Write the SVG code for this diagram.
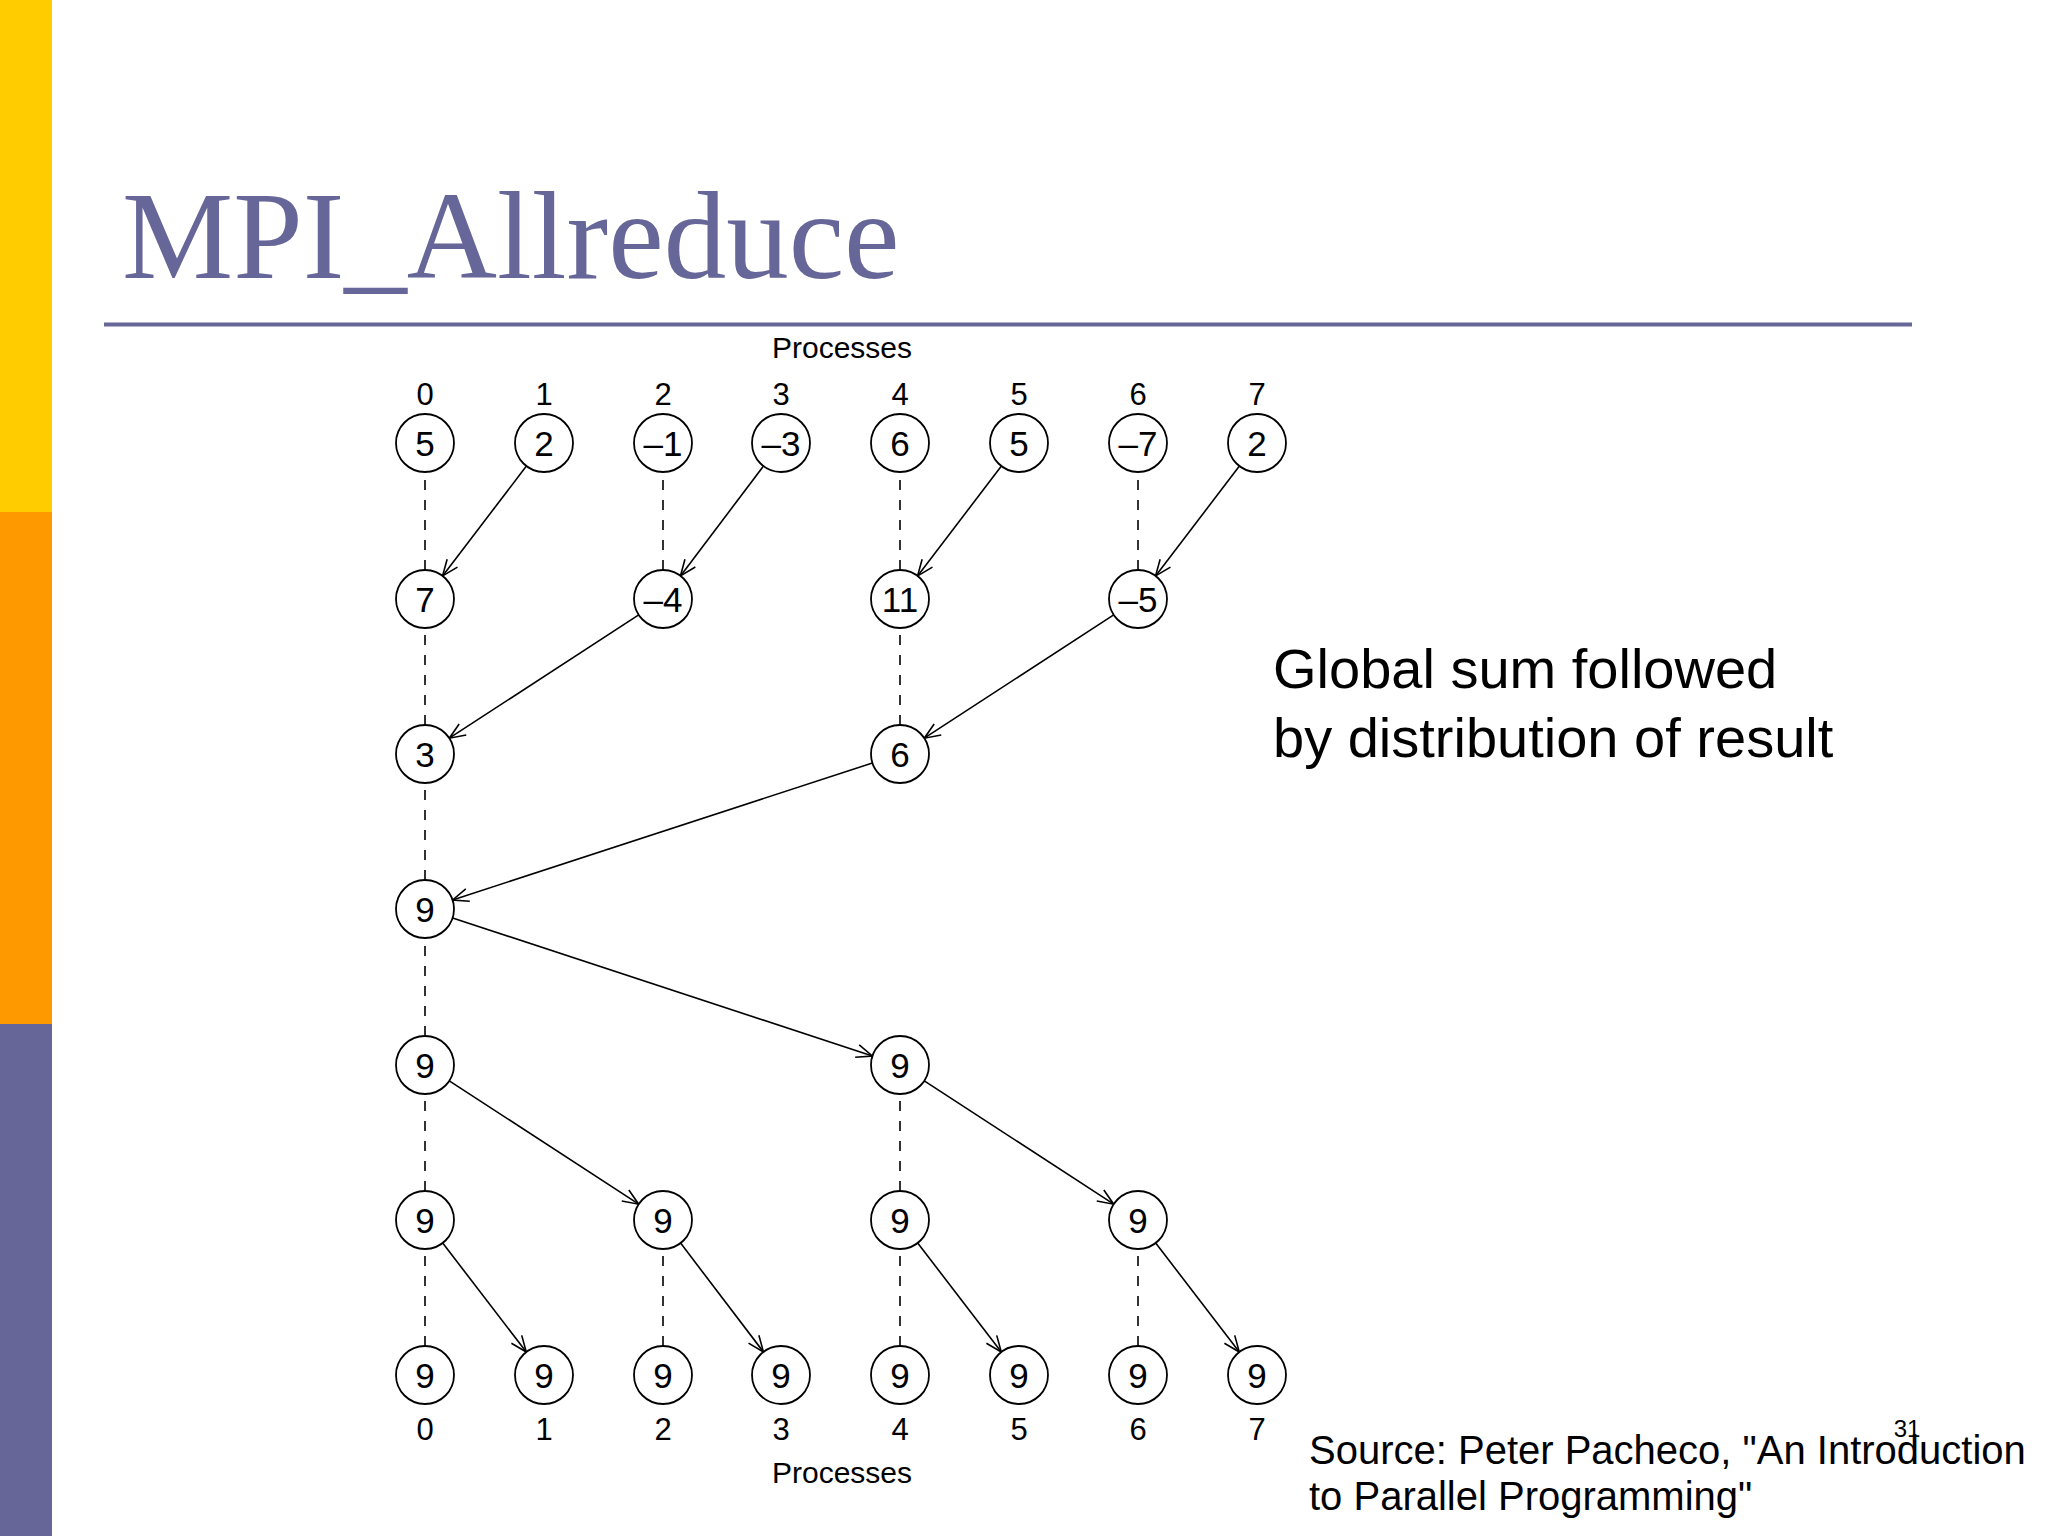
<svg xmlns="http://www.w3.org/2000/svg" width="2048" height="1536" viewBox="0 0 2048 1536">
<style>
.nd circle{fill:#fff;stroke:#000;stroke-width:1.8}
.nd text{font-family:"Liberation Sans",Arial,sans-serif;font-size:35px;text-anchor:middle;fill:#000}
.lbl{font-family:"Liberation Sans",Arial,sans-serif;font-size:31px;text-anchor:middle;fill:#000}
.hdr{font-family:"Liberation Sans",Arial,sans-serif;font-size:30px;text-anchor:middle;fill:#000}
.ar{stroke:#000;stroke-width:1.6;fill:none;marker-end:url(#ah)}
.da{stroke:#000;stroke-width:1.6;fill:none;stroke-dasharray:10 10}
.txt{font-family:"Liberation Sans",Arial,sans-serif;fill:#000}
</style>
<defs>
<marker id="ah" markerUnits="userSpaceOnUse" markerWidth="20" markerHeight="20" refX="0" refY="0" orient="auto" overflow="visible">
<path d="M-16,-6.5 L0,0 L-16,6.5" fill="none" stroke="#000" stroke-width="1.6"/>
</marker>
</defs>
<rect width="2048" height="1536" fill="#fff"/>
<g id="sidebar">
<rect x="0" y="0" width="52" height="512" fill="#FFCC00"/>
<rect x="0" y="512" width="52" height="512" fill="#FF9900"/>
<rect x="0" y="1024" width="52" height="512" fill="#666699"/>
</g>
<g id="title">
<text x="122" y="278" font-family="'Liberation Serif','Times New Roman',serif" font-size="125" fill="#666699">MPI_Allreduce</text>
<line x1="104" y1="324.5" x2="1912" y2="324.5" stroke="#666699" stroke-width="4"/>
</g>
<g id="labels">
<text class="hdr" x="842" y="358">Processes</text>
<text class="lbl" x="425" y="405">0</text><text class="lbl" x="544" y="405">1</text><text class="lbl" x="663" y="405">2</text><text class="lbl" x="781" y="405">3</text><text class="lbl" x="900" y="405">4</text><text class="lbl" x="1019" y="405">5</text><text class="lbl" x="1138" y="405">6</text><text class="lbl" x="1257" y="405">7</text>
<text class="lbl" x="425" y="1440">0</text><text class="lbl" x="544" y="1440">1</text><text class="lbl" x="663" y="1440">2</text><text class="lbl" x="781" y="1440">3</text><text class="lbl" x="900" y="1440">4</text><text class="lbl" x="1019" y="1440">5</text><text class="lbl" x="1138" y="1440">6</text><text class="lbl" x="1257" y="1440">7</text>
<text class="hdr" x="842" y="1483">Processes</text>
</g>
<g id="connectors">
<line class="da" x1="425" y1="570" x2="425" y2="472"/>
<line class="da" x1="663" y1="570" x2="663" y2="472"/>
<line class="da" x1="900" y1="570" x2="900" y2="472"/>
<line class="da" x1="1138" y1="570" x2="1138" y2="472"/>
<line class="da" x1="425" y1="725" x2="425" y2="628"/>
<line class="da" x1="900" y1="725" x2="900" y2="628"/>
<line class="da" x1="425" y1="880" x2="425" y2="783"/>
<line class="da" x1="425" y1="1036" x2="425" y2="938"/>
<line class="da" x1="425" y1="1191" x2="425" y2="1094"/>
<line class="da" x1="900" y1="1191" x2="900" y2="1094"/>
<line class="da" x1="425" y1="1346" x2="425" y2="1249"/>
<line class="da" x1="663" y1="1346" x2="663" y2="1249"/>
<line class="da" x1="900" y1="1346" x2="900" y2="1249"/>
<line class="da" x1="1138" y1="1346" x2="1138" y2="1249"/>
<line class="ar" x1="526.4" y1="466.1" x2="442.6" y2="575.9"/>
<line class="ar" x1="763.5" y1="466.1" x2="680.5" y2="575.9"/>
<line class="ar" x1="1001.4" y1="466.1" x2="917.6" y2="575.9"/>
<line class="ar" x1="1239.4" y1="466.1" x2="1155.6" y2="575.9"/>
<line class="ar" x1="638.7" y1="614.8" x2="449.3" y2="738.2"/>
<line class="ar" x1="1113.7" y1="614.8" x2="924.3" y2="738.2"/>
<line class="ar" x1="872.4" y1="763" x2="452.6" y2="900"/>
<line class="ar" x1="452.6" y1="918" x2="872.4" y2="1056"/>
<line class="ar" x1="449.3" y1="1080.8" x2="638.7" y2="1204.2"/>
<line class="ar" x1="924.3" y1="1080.8" x2="1113.7" y2="1204.2"/>
<line class="ar" x1="442.7" y1="1243" x2="526.3" y2="1352"/>
<line class="ar" x1="680.6" y1="1243.1" x2="763.4" y2="1351.9"/>
<line class="ar" x1="917.7" y1="1243" x2="1001.3" y2="1352"/>
<line class="ar" x1="1155.7" y1="1243" x2="1239.3" y2="1352"/>
</g>
<g id="n0_0" class="nd"><circle cx="425" cy="443" r="29"/><text x="425" y="455.5">5</text></g>
<g id="n0_1" class="nd"><circle cx="544" cy="443" r="29"/><text x="544" y="455.5">2</text></g>
<g id="n0_2" class="nd"><circle cx="663" cy="443" r="29"/><text x="663" y="455.5">–1</text></g>
<g id="n0_3" class="nd"><circle cx="781" cy="443" r="29"/><text x="781" y="455.5">–3</text></g>
<g id="n0_4" class="nd"><circle cx="900" cy="443" r="29"/><text x="900" y="455.5">6</text></g>
<g id="n0_5" class="nd"><circle cx="1019" cy="443" r="29"/><text x="1019" y="455.5">5</text></g>
<g id="n0_6" class="nd"><circle cx="1138" cy="443" r="29"/><text x="1138" y="455.5">–7</text></g>
<g id="n0_7" class="nd"><circle cx="1257" cy="443" r="29"/><text x="1257" y="455.5">2</text></g>
<g id="n1_0" class="nd"><circle cx="425" cy="599" r="29"/><text x="425" y="611.5">7</text></g>
<g id="n1_2" class="nd"><circle cx="663" cy="599" r="29"/><text x="663" y="611.5">–4</text></g>
<g id="n1_4" class="nd"><circle cx="900" cy="599" r="29"/><text x="900" y="611.5">11</text></g>
<g id="n1_6" class="nd"><circle cx="1138" cy="599" r="29"/><text x="1138" y="611.5">–5</text></g>
<g id="n2_0" class="nd"><circle cx="425" cy="754" r="29"/><text x="425" y="766.5">3</text></g>
<g id="n2_4" class="nd"><circle cx="900" cy="754" r="29"/><text x="900" y="766.5">6</text></g>
<g id="n3_0" class="nd"><circle cx="425" cy="909" r="29"/><text x="425" y="921.5">9</text></g>
<g id="n4_0" class="nd"><circle cx="425" cy="1065" r="29"/><text x="425" y="1077.5">9</text></g>
<g id="n4_4" class="nd"><circle cx="900" cy="1065" r="29"/><text x="900" y="1077.5">9</text></g>
<g id="n5_0" class="nd"><circle cx="425" cy="1220" r="29"/><text x="425" y="1232.5">9</text></g>
<g id="n5_2" class="nd"><circle cx="663" cy="1220" r="29"/><text x="663" y="1232.5">9</text></g>
<g id="n5_4" class="nd"><circle cx="900" cy="1220" r="29"/><text x="900" y="1232.5">9</text></g>
<g id="n5_6" class="nd"><circle cx="1138" cy="1220" r="29"/><text x="1138" y="1232.5">9</text></g>
<g id="n6_0" class="nd"><circle cx="425" cy="1375" r="29"/><text x="425" y="1387.5">9</text></g>
<g id="n6_1" class="nd"><circle cx="544" cy="1375" r="29"/><text x="544" y="1387.5">9</text></g>
<g id="n6_2" class="nd"><circle cx="663" cy="1375" r="29"/><text x="663" y="1387.5">9</text></g>
<g id="n6_3" class="nd"><circle cx="781" cy="1375" r="29"/><text x="781" y="1387.5">9</text></g>
<g id="n6_4" class="nd"><circle cx="900" cy="1375" r="29"/><text x="900" y="1387.5">9</text></g>
<g id="n6_5" class="nd"><circle cx="1019" cy="1375" r="29"/><text x="1019" y="1387.5">9</text></g>
<g id="n6_6" class="nd"><circle cx="1138" cy="1375" r="29"/><text x="1138" y="1387.5">9</text></g>
<g id="n6_7" class="nd"><circle cx="1257" cy="1375" r="29"/><text x="1257" y="1387.5">9</text></g>
<g id="caption">
<text class="txt" x="1273" y="688" font-size="56">Global sum followed</text>
<text class="txt" x="1273" y="757" font-size="56">by distribution of result</text>
</g>
<g id="source">
<text class="txt" x="1907" y="1437" font-size="24" text-anchor="middle">31</text>
<text class="txt" x="1309" y="1464" font-size="40">Source: Peter Pacheco, "An Introduction</text>
<text class="txt" x="1309" y="1510" font-size="40">to Parallel Programming"</text>
</g>
</svg>
